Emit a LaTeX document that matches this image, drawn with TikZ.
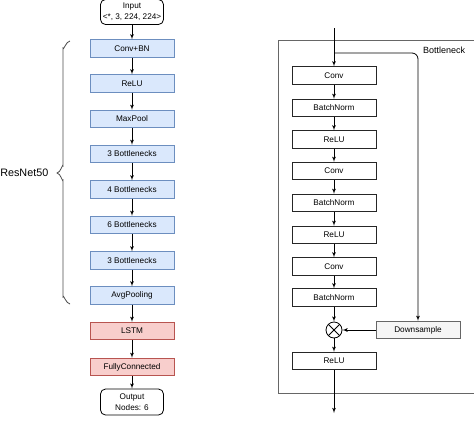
\documentclass[tikz,border=0pt]{standalone}
\usepackage{fontspec}
\setmainfont{Liberation Sans}
\usetikzlibrary{arrows}
\usetikzlibrary{positioning}
\definecolor{blueFill}{HTML}{DAE8FC}
\definecolor{blueLine}{HTML}{6C8EBF}
\definecolor{redFill}{HTML}{F8CECC}
\definecolor{redLine}{HTML}{B85450}
\definecolor{greyFill}{HTML}{F5F5F5}
\definecolor{greyLine}{HTML}{666666}
\tikzset{arr/.style = {-latex', line width = 0.8pt},
         layer/.style = {draw, line width = 0.8pt, minimum width = 84pt,
                         minimum height = 17.5pt, inner sep = 0pt,
                         font = \fontsize{8.2}{9.8}\selectfont},
         resblock/.style = {layer, fill = blueFill, draw = blueLine},
         headblock/.style = {layer, fill = redFill, draw = redLine},
         plainblock/.style = {layer, draw = black!85},
         terminal/.style = {draw, line width = 0.8pt, rounded corners = 5pt,
                            minimum width = 63pt, inner sep = 1pt, align = center,
                            font = \fontsize{8.2}{11}\selectfont}}

\begin{document}
\begin{tikzpicture}[x = 1pt, y = -1pt]
      \useasboundingbox (0, 0) rectangle (474, 421);
      % left column
      \node [terminal, minimum height = 25pt] (input) at (132, 12) {Input\\<*, 3, 224, 224>};
      \node [resblock] (convbn) at (132, 48.5) {Conv+BN};
      \node [resblock] (relu) at (132, 83.5) {ReLU};
      \node [resblock] (maxpool) at (132, 119) {MaxPool};
      \node [resblock] (bneckA) at (132, 154) {3 Bottlenecks};
      \node [resblock] (bneckB) at (132, 189.5) {4 Bottlenecks};
      \node [resblock] (bneckC) at (132, 225) {6 Bottlenecks};
      \node [resblock] (bneckD) at (132, 260.5) {3 Bottlenecks};
      \node [resblock] (avgpool) at (132, 295.5) {AvgPooling};
      \node [headblock] (lstm) at (132, 331) {LSTM};
      \node [headblock] (fc) at (132, 367) {FullyConnected};
      \node [terminal, minimum height = 26pt] (output) at (132, 402) {Output\\Nodes: 6};
      \draw [arr] (input) -- (convbn);
      \draw [arr] (convbn) -- (relu);
      \draw [arr] (relu) -- (maxpool);
      \draw [arr] (maxpool) -- (bneckA);
      \draw [arr] (bneckA) -- (bneckB);
      \draw [arr] (bneckB) -- (bneckC);
      \draw [arr] (bneckC) -- (bneckD);
      \draw [arr] (bneckD) -- (avgpool);
      \draw [arr] (avgpool) -- (lstm);
      \draw [arr] (lstm) -- (fc);
      \draw [arr] (fc) -- (output);
      % brace
      \draw [line width = 0.8pt, black!70] (70, 41) to [out = 180, in = 270] (63, 48) -- (63, 166)
            to [out = 90, in = 0] (57, 173) to [out = 0, in = 270] (63, 180) -- (63, 297)
            to [out = 90, in = 180] (70, 304);
      \node [anchor = east, font = \fontsize{10.8}{13}\selectfont, inner sep = 0pt] (resnet) at (48.5, 173) {ResNet50};
      % bottleneck
      \draw [line width = 0.9pt, black!60] (480, 40) -- (278, 40) -- (278, 393) -- (480, 393);
      \node [anchor = west, font = \fontsize{9}{11}\selectfont, inner sep = 0pt] (title) at (423, 50) {Bottleneck};
      \node [plainblock] (conv1) at (334, 75.5) {Conv};
      \node [plainblock] (bn1) at (334, 108) {BatchNorm};
      \node [plainblock] (relu1) at (334, 139.5) {ReLU};
      \node [plainblock] (conv2) at (334, 171) {Conv};
      \node [plainblock] (bn2) at (334, 203) {BatchNorm};
      \node [plainblock] (relu2) at (334, 235) {ReLU};
      \node [plainblock] (conv3) at (334, 266.5) {Conv};
      \node [plainblock] (bn3) at (334, 297.5) {BatchNorm};
      \node [draw, circle, line width = 0.8pt, minimum size = 16pt, inner sep = 0pt,
             path picture = {\draw [line width = 0.8pt]
               (path picture bounding box.south west) -- (path picture bounding box.north east)
               (path picture bounding box.north west) -- (path picture bounding box.south east);}]
            (mult) at (334, 330) {};
      \node [layer, fill = greyFill, draw = greyLine] (down) at (418, 330) {Downsample};
      \node [plainblock] (relu3) at (334, 361) {ReLU};
      \coordinate (inTop) at (334, 28);
      \coordinate (split) at (334, 53);
      \coordinate (outEnd) at (334, 413);
      \draw [arr] (inTop) -- (conv1);
      \draw [arr, rounded corners = 6pt] (split) -| (down);
      \draw [arr] (conv1) -- (bn1);
      \draw [arr] (bn1) -- (relu1);
      \draw [arr] (relu1) -- (conv2);
      \draw [arr] (conv2) -- (bn2);
      \draw [arr] (bn2) -- (relu2);
      \draw [arr] (relu2) -- (conv3);
      \draw [arr] (conv3) -- (bn3);
      \draw [arr] (bn3) -- (mult);
      \draw [arr] (down) -- (mult);
      \draw [arr] (mult) -- (relu3);
      \draw [arr] (relu3) -- (outEnd);
    \end{tikzpicture}
\end{document}
